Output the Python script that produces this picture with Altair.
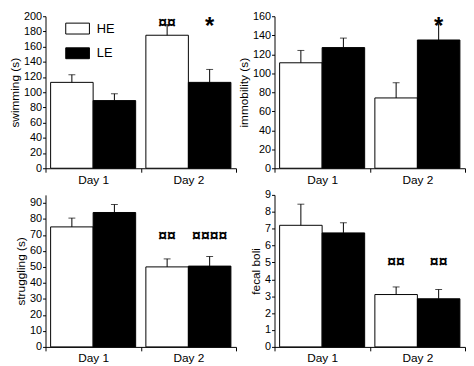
import altair as alt
import pandas as pd

days = ["Day 1", "Day 1", "Day 2", "Day 2"]
groups = ["HE", "LE", "HE", "LE"]

swim_mean = [113, 89, 175, 113]
swim_sem = [10, 9, 14, 17]
immob_mean = [111, 127, 74, 135]
immob_sem = [13, 10, 16, 17]
strug_mean = [75, 84, 50, 50.5]
strug_sem = [5.5, 5, 5, 6]
boli_mean = [7.2, 6.75, 3.1, 2.85]
boli_sem = [1.25, 0.6, 0.45, 0.55]

# annotations: day, group, label, y-position (data units)
ann_swim = (["Day 2", "Day 2"], ["HE", "LE"], ["¤¤", "*"], [199, 200])
ann_immob = (["Day 2"], ["LE"], ["*"], [160])
ann_strug = (["Day 2", "Day 2"], ["HE", "LE"], ["¤¤", "¤¤¤¤"], [73, 73])
ann_boli = (["Day 2", "Day 2"], ["HE", "LE"], ["¤¤", "¤¤"], [5.4, 5.4])

FONT = "Liberation Sans"
W = 193


def panel(mean, sem, title, dom, ticks, ann, show_legend, h):
    df = pd.DataFrame({
        "day": days, "group": groups, "mean": mean,
        "upper": [m + s for m, s in zip(mean, sem)],
    })
    adf = pd.DataFrame({"day": ann[0], "group": ann[1], "label": ann[2], "y": ann[3]})

    x = alt.X("day:N", title=None,
              scale=alt.Scale(paddingInner=0, paddingOuter=0),
              axis=alt.Axis(labelAngle=0, tickBand="extent", tickSize=4,
                            labelFontSize=12, labelPadding=2))
    xo = alt.XOffset("group:N", sort=["HE", "LE"],
                     scale=alt.Scale(paddingInner=0, paddingOuter=0.12))
    yscale = alt.Scale(domain=dom, nice=False, zero=True)
    yaxis = alt.Axis(values=ticks, tickSize=3, labelPadding=1, titlePadding=2,
                     labelOverlap=False, labelFlush=False)

    def Y(field):
        return alt.Y(field, title=title, scale=yscale, axis=yaxis)

    if show_legend:
        leg = alt.Legend(title=None, orient="none", legendX=20, legendY=0,
                         symbolType="M-1,-0.46H1V0.46H-1Z", symbolSize=576,
                         symbolStrokeColor="black", symbolStrokeWidth=1,
                         labelFontSize=13, labelOffset=7, rowPadding=4,
                         labelFont=FONT, labelColor="black")
    else:
        leg = None
    fill = alt.Fill("group:N", scale=alt.Scale(domain=["HE", "LE"], range=["white", "black"]),
                    legend=leg)

    base = alt.Chart(df)
    bars = base.mark_bar(stroke="black", strokeWidth=1).encode(
        x=x, xOffset=xo, y=Y("mean:Q"), fill=fill)
    err = base.mark_rule(color="black", strokeWidth=1).encode(
        x=x, xOffset=xo, y=Y("mean:Q"), y2="upper:Q")
    cap = base.mark_tick(color="black", thickness=1, size=7).encode(
        x=x, xOffset=xo, y=Y("upper:Q"))
    abase = alt.Chart(adf)
    stars = abase.transform_filter(alt.datum.label == "*").mark_text(
        fontSize=24, fontWeight="bold", font=FONT, baseline="top", dy=-1, color="black"
    ).encode(x=x, xOffset=xo, y=Y("y:Q"), text="label:N")
    curr = abase.transform_filter(alt.datum.label != "*").mark_text(
        fontSize=16, fontWeight="bold", font=FONT, baseline="top", dy=-2, color="black"
    ).encode(x=x, xOffset=xo, y=Y("y:Q"), text="label:N")
    return alt.layer(bars, err, cap, stars, curr).properties(width=W, height=h)


p1 = panel(swim_mean, swim_sem, "swimming (s)", [0, 200], list(range(0, 201, 20)),
           ann_swim, True, 154)
p2 = panel(immob_mean, immob_sem, "immobility (s)", [0, 160], list(range(0, 161, 20)),
           ann_immob, False, 154)
p3 = panel(strug_mean, strug_sem, "struggling (s)", [0, 95], list(range(0, 91, 10)),
           ann_strug, False, 154)
p4 = panel(boli_mean, boli_sem, "fecal boli", [0, 9], list(range(0, 10, 1)),
           ann_boli, False, 154)

chart = alt.concat(p1, p2, p3, p4, columns=2, spacing={"row": 4, "column": 0}).resolve_scale(
    fill="independent"
).properties(padding=0).configure_view(stroke=None).configure_axis(
    labelFont=FONT, titleFont=FONT, labelColor="black", titleColor="black",
    domainColor="black", tickColor="black", grid=False, labelFontSize=11,
    titleFontSize=12, titleFontWeight="normal"
)

chart.save("out.html", embed_options={"renderer": "svg", "actions": False})
